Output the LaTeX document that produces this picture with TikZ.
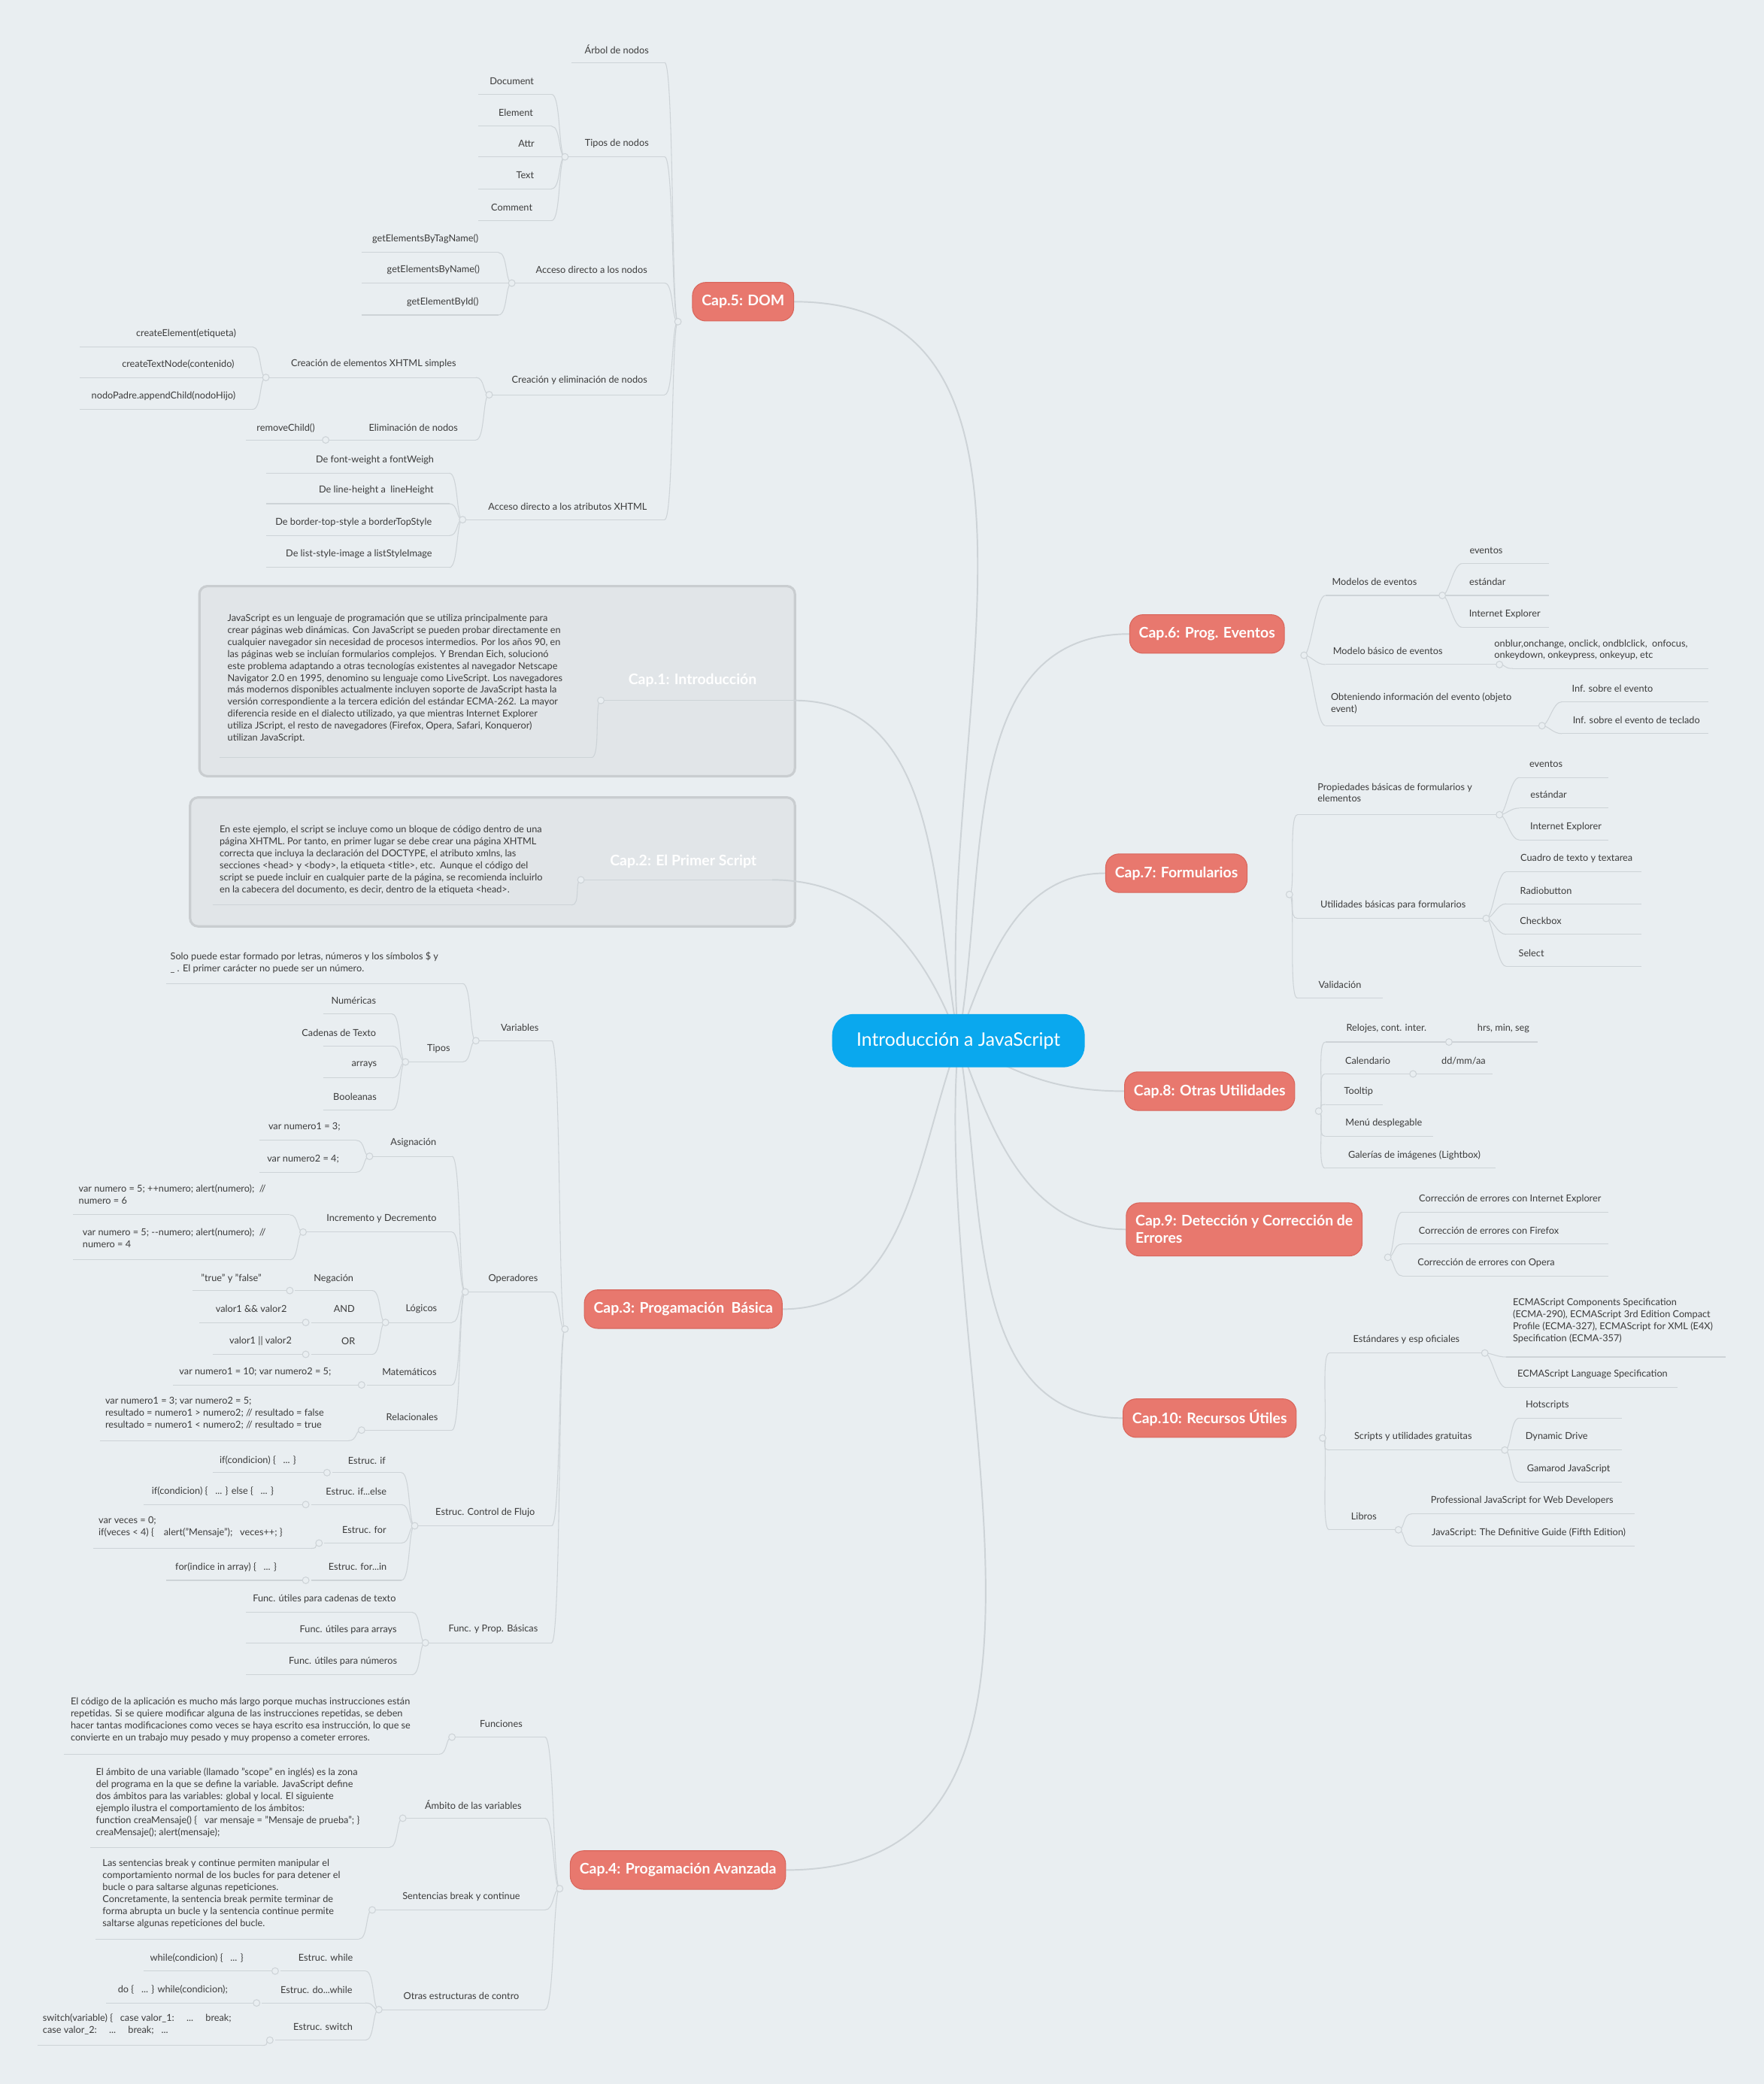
\documentclass[tikz,border=0pt]{standalone}
\usepackage{fontspec}
\setmainfont{Lato}
\usetikzlibrary{backgrounds}
\definecolor{bgc}{HTML}{E9EEF1}
\definecolor{lnc}{HTML}{CDD3D7}
\definecolor{txc}{HTML}{3C3C3C}
\definecolor{capc}{HTML}{E8786E}
\definecolor{capd}{HTML}{D8665C}
\definecolor{rootc}{HTML}{0AA8EE}
\definecolor{boxc}{HTML}{E1E5E8}
\definecolor{boxd}{HTML}{C9CDD0}
\pgfdeclarelayer{bgzero}
\pgfsetlayers{bgzero,background,main}
\tikzset{
 txt/.style={font=\fontsize{7.2}{9}\selectfont, inner sep=0pt, text=txc},
 txtw/.style={txt, align=left, anchor=north west},
 ul/.style={draw=lnc, line width=0.6pt},
 con/.style={draw=lnc, line width=0.6pt},
 rcon/.style={draw=lnc, line width=1.1pt},
 jc/.style={circle, draw=lnc, fill=bgc, line width=0.6pt, inner sep=0pt, minimum size=5pt},
 capbox/.style={fill=capc, draw=capd, line width=0.6pt, rounded corners=10pt, text=white, font=\fontsize{11}{13}\bfseries\selectfont, minimum height=29pt, inner xsep=7pt, align=left},
 capg/.style={text=white, font=\fontsize{11}{13}\bfseries\selectfont, inner sep=0pt},
 gbox/.style={fill=boxc, draw=boxd, line width=1.8pt, rounded corners=6pt},
}
\newcommand\lf[7]{\node[txt] (#1) at (#2,#3) {#7};\coordinate (#1l) at (#4,#6);\coordinate (#1r) at (#5,#6);\begin{pgfonlayer}{background}\draw[ul] (#1l) -- (#1r);\end{pgfonlayer}}
\newcommand\lfw[7]{\node[txtw] (#1) at (#2,#3) {#7};\coordinate (#1l) at (#4,#6);\coordinate (#1r) at (#5,#6);\begin{pgfonlayer}{background}\draw[ul] (#1l) -- (#1r);\end{pgfonlayer}}
\newcommand\jn[3]{\node[jc] (#1) at (#2,#3) {};}
\newcommand\cL[2]{\begin{pgfonlayer}{background}\draw[con] (#2r) .. controls +(7,0) and +(-5,0) .. (#1.center);\end{pgfonlayer}}
\newcommand\cR[2]{\begin{pgfonlayer}{background}\draw[con] (#1.center) .. controls +(5,0) and +(-7,0) .. (#2l);\end{pgfonlayer}}
\begin{document}
\begin{tikzpicture}[x=1pt,y=-1pt]
\begin{pgfonlayer}{bgzero}
\fill[bgc] (0,0) rectangle (1327,1568);
\draw[gbox] (150,441) rectangle (598,584);
\draw[gbox] (143,600) rectangle (598,697);
\end{pgfonlayer}
\useasboundingbox (0,0) rectangle (1327,1568);

% root
\node[fill=rootc, rounded corners=16pt, text=white, font=\fontsize{14}{16}\selectfont, minimum width=190pt, minimum height=40pt] (root) at (721,783) {Introducción a JavaScript};

% caps
\node[capbox] (c5) at (559,227) {Cap.5: DOM};
\node[capg] (c1) at (521,512) {Cap.1: Introducción};
\node[capg] (c2) at (514,648) {Cap.2: El Primer Script};
\node[capbox] (c3) at (514,985) {Cap.3: Progamación\ \ Básica};
\node[capbox] (c4) at (510,1407) {Cap.4: Progamación Avanzada};
\node[capbox] (c6) at (908,477) {Cap.6: Prog. Eventos};
\node[capbox] (c7) at (885,657) {Cap.7: Formularios};
\node[capbox] (c8) at (910,821) {Cap.8: Otras Utilidades};
\node[capbox, minimum height=40pt] (c9) at (936,925) {Cap.9: Detección y Corrección de\\Errores};
\node[capbox] (c10) at (910,1067) {Cap.10: Recursos Útiles};

\coordinate (c1l) at (452,527); \coordinate (c1r) at (597,527);
\coordinate (c2l) at (437,662); \coordinate (c2r) at (581,662);
\begin{pgfonlayer}{background}
\draw[ul] (c1l) -- (c1r); \draw[ul] (c2l) -- (c2r);
\draw[rcon] (root.center) to[out=95,in=0] (c5.east);
\draw[rcon] (root.center) to[out=100,in=0] (c1r);
\draw[rcon] (root.center) to[out=110,in=0] (c2r);
\draw[rcon] (root.center) to[out=250,in=0] (c3.east);
\draw[rcon] (root.center) to[out=265,in=0] (c4.east);
\draw[rcon] (root.center) to[out=80,in=180] (c6.west);
\draw[rcon] (root.center) to[out=70,in=180] (c7.west);
\draw[rcon] (root.center) to[out=-30,in=180] (c8.west);
\draw[rcon] (root.center) to[out=-70,in=180] (c9.west);
\draw[rcon] (root.center) to[out=-80,in=180] (c10.west);
\end{pgfonlayer}

% junctions of caps
\jn{j5}{510}{242} \jn{j1}{452}{527} \jn{j2}{437}{662} \jn{j3}{425}{1000} \jn{j4}{421}{1421}
\jn{j6}{981}{493} \jn{j7}{970}{673} \jn{j8}{992}{836} \jn{j9}{1044}{946} \jn{j10}{995}{1082}

% Cap.1 and Cap.2 texts
\lfw{t1}{171}{462}{165}{445}{570}{JavaScript es un lenguaje de programación que se utiliza principalmente para\\crear páginas web dinámicas. Con JavaScript se pueden probar directamente en\\cualquier navegador sin necesidad de procesos intermedios. Por los años 90, en\\las páginas web se incluían formularios complejos. Y Brendan Eich, solucionó\\este problema adaptando a otras tecnologías existentes al navegador Netscape\\Navigator 2.0 en 1995, denomino su lenguaje como LiveScript. Los navegadores\\más modernos disponibles actualmente incluyen soporte de JavaScript hasta la\\versión correspondiente a la tercera edición del estándar ECMA-262. La mayor\\diferencia reside en el dialecto utilizado, ya que mientras Internet Explorer\\utiliza JScript, el resto de navegadores (Firefox, Opera, Safari, Konqueror)\\utilizan JavaScript.}
\cL{j1}{t1}
\lfw{t2}{165}{621}{160}{430}{681}{En este ejemplo, el script se incluye como un bloque de código dentro de una\\página XHTML. Por tanto, en primer lugar se debe crear una página XHTML\\correcta que incluya la declaración del DOCTYPE, el atributo xmlns, las\\secciones <head> y <body>, la etiqueta <title>, etc.\ \ Aunque el código del\\script se puede incluir en cualquier parte de la página, se recomienda incluirlo\\en la cabecera del documento, es decir, dentro de la etiqueta <head>.}
\cL{j2}{t2}

% Cap.5
\lf{a1}{464}{37}{430}{500}{47}{Árbol de nodos} \cL{j5}{a1}
\lf{a2}{464}{108}{425}{500}{118}{Tipos de nodos} \cL{j5}{a2} \jn{ja2}{425}{118}
\lf{a21}{385}{61}{360}{415}{71}{Document} \cL{ja2}{a21}
\lf{a22}{388}{85}{360}{415}{95}{Element} \cL{ja2}{a22}
\lf{a23}{396}{108}{360}{415}{118}{Attr} \cL{ja2}{a23}
\lf{a24}{395}{132}{360}{415}{142}{Text} \cL{ja2}{a24}
\lf{a25}{385}{156}{360}{415}{166}{Comment} \cL{ja2}{a25}
\lf{a3}{445}{203}{385}{500}{213}{Acceso directo a los nodos} \cL{j5}{a3} \jn{ja3}{385}{213}
\lf{a31}{320}{180}{272}{375}{190}{getElementsByTagName()} \cL{ja3}{a31}
\lf{a32}{326}{203}{272}{375}{213}{getElementsByName()} \cL{ja3}{a32}
\lf{a33}{333}{227}{272}{375}{237}{getElementById()} \cL{ja3}{a33}
\lf{a4}{436}{286}{368}{500}{297}{Creación y eliminación de nodos} \cL{j5}{a4} \jn{ja4}{368}{297}
\lf{a41}{281}{274}{200}{358}{284}{Creación de elementos XHTML simples} \cL{ja4}{a41} \jn{ja41}{200}{284}
\lf{a411}{140}{251}{60}{190}{261}{createElement(etiqueta)} \cL{ja41}{a411}
\lf{a412}{134}{274}{60}{190}{284}{createTextNode(contenido)} \cL{ja41}{a412}
\lf{a413}{123}{298}{60}{190}{308}{nodoPadre.appendChild(nodoHijo)} \cL{ja41}{a413}
\lf{a42}{311}{322}{245}{358}{331}{Eliminación de nodos} \cL{ja4}{a42} \jn{ja42}{245}{331}
\lf{a421}{215}{322}{185}{240}{331}{removeChild()} \cL{ja42}{a421}
\lf{a5}{427}{381}{348}{500}{391}{Acceso directo a los atributos XHTML} \cL{j5}{a5} \jn{ja5}{348}{391}
\lf{a51}{282}{346}{200}{338}{356}{De font-weight a fontWeigh} \cL{ja5}{a51}
\lf{a52}{283}{369}{200}{338}{379}{De line-height a\ \ lineHeight} \cL{ja5}{a52}
\lf{a53}{266}{393}{200}{338}{403}{De border-top-style a borderTopStyle} \cL{ja5}{a53}
\lf{a54}{270}{417}{200}{338}{427}{De list-style-image a listStyleImage} \cL{ja5}{a54}

% Cap.3
\lf{b1}{391}{773}{358}{415}{783}{Variables} \cL{j3}{b1} \jn{jb1}{358}{783}
\lfw{b11}{128}{716}{125}{348}{740}{Solo puede estar formado por letras, números y los símbolos \$ y\\\_ . El primer carácter no puede ser un número.} \cL{jb1}{b11}
\lf{b12}{330}{789}{305}{348}{799}{Tipos} \cL{jb1}{b12} \jn{jb12}{305}{799}
\lf{b121}{266}{753}{243}{295}{763}{Numéricas} \cL{jb12}{b121}
\lf{b122}{255}{777}{243}{295}{787}{Cadenas de Texto} \cL{jb12}{b122}
\lf{b123}{274}{801}{243}{295}{811}{arrays} \cL{jb12}{b123}
\lf{b124}{267}{825}{243}{295}{835}{Booleanas} \cL{jb12}{b124}
\lf{b2}{386}{962}{350}{415}{972}{Operadores} \cL{j3}{b2} \jn{jb2}{350}{972}
\lf{b21}{311}{860}{278}{340}{870}{Asignación} \cL{jb2}{b21} \jn{jb21}{278}{870}
\lf{b211}{229}{848}{195}{268}{858}{var numero1 = 3;} \cL{jb21}{b211}
\lf{b212}{228}{872}{195}{268}{882}{var numero2 = 4;} \cL{jb21}{b212}
\lf{b22}{287}{917}{228}{340}{927}{Incremento y Decremento} \cL{jb2}{b22} \jn{jb22}{228}{927}
\lfw{b221}{59}{891}{55}{218}{914}{var numero = 5; ++numero; alert(numero);\ \ //\\numero = 6} \cL{jb22}{b221}
\lfw{b222}{62}{924}{55}{218}{948}{var numero = 5; -{}-numero; alert(numero);\ \ //\\numero = 4} \cL{jb22}{b222}
\lf{b23}{317}{985}{290}{340}{995}{Lógicos} \cL{jb2}{b23} \jn{jb23}{290}{995}
\lf{b231}{251}{962}{222}{280}{971}{Negación} \cL{jb23}{b231} \jn{jb231}{218}{971}
\lf{b2311}{174}{962}{145}{212}{971}{"true" y "false"} \cL{jb231}{b2311}
\lf{b232}{259}{985}{234}{280}{995}{AND} \cL{jb23}{b232} \jn{jb232}{230}{995}
\lf{b2321}{189}{985}{150}{224}{995}{valor1 \&\& valor2} \cL{jb232}{b2321}
\lf{b233}{262}{1009}{234}{280}{1019}{OR} \cL{jb23}{b233} \jn{jb233}{230}{1019}
\lf{b2331}{196}{1009}{160}{224}{1019}{valor1 || valor2} \cL{jb233}{b2331}
\lf{b24}{308}{1032}{276}{340}{1042}{Matemáticos} \cL{jb2}{b24} \jn{jb24}{272}{1042}
\lf{b241}{192}{1032}{130}{266}{1042}{var numero1 = 10; var numero2 = 5;} \cL{jb24}{b241}
\lf{b25}{310}{1066}{272}{340}{1076}{Relacionales} \cL{jb2}{b25} \jn{jb25}{272}{1076}
\lfw{b251}{79}{1051}{75}{262}{1084}{var numero1 = 3; var numero2 = 5;\\resultado = numero1 > numero2; // resultado = false\\resultado = numero1 < numero2; // resultado = true} \cL{jb25}{b251}
\lf{b3}{365}{1138}{312}{415}{1148}{Estruc. Control de Flujo} \cL{j3}{b3} \jn{jb3}{312}{1148}
\lf{b31}{276}{1099}{250}{302}{1108}{Estruc. if} \cL{jb3}{b31} \jn{jb31}{246}{1108}
\lf{b311}{194}{1099}{160}{240}{1108}{if(condicion) \{\ \ \ ... \}} \cL{jb31}{b311}
\lf{b32}{268}{1122}{234}{302}{1132}{Estruc. if...else} \cL{jb3}{b32} \jn{jb32}{230}{1132}
\lf{b321}{160}{1122}{108}{224}{1132}{if(condicion) \{\ \ \ ... \} else \{\ \ \ ... \}} \cL{jb32}{b321}
\lf{b33}{274}{1151}{244}{302}{1161}{Estruc. for} \cL{jb3}{b33} \jn{jb33}{240}{1161}
\lfw{b331}{74}{1141}{70}{234}{1165}{var veces = 0;\\if(veces < 4) \{\ \ \ \ alert("Mensaje");\ \ \ veces++; \}} \cL{jb33}{b331}
\lf{b34}{269}{1179}{234}{302}{1189}{Estruc. for...in} \cL{jb3}{b34} \jn{jb34}{230}{1189}
\lf{b341}{170}{1179}{125}{224}{1189}{for(indice in array) \{\ \ \ ... \}} \cL{jb34}{b341}
\lf{b4}{371}{1226}{320}{415}{1236}{Func. y Prop. Básicas} \cL{j3}{b4} \jn{jb4}{320}{1236}
\lf{b41}{244}{1203}{185}{310}{1213}{Func. útiles para cadenas de texto} \cL{jb4}{b41}
\lf{b42}{262}{1226}{185}{310}{1236}{Func. útiles para arrays} \cL{jb4}{b42}
\lf{b43}{258}{1250}{185}{310}{1260}{Func. útiles para números} \cL{jb4}{b43}

% Cap.4
\lf{d1}{377}{1297}{340}{410}{1307}{Funciones} \cL{j4}{d1} \jn{jd1}{340}{1307}
\lfw{d11}{53}{1277}{48}{330}{1320}{El código de la aplicación es mucho más largo porque muchas instrucciones están\\repetidas. Si se quiere modificar alguna de las instrucciones repetidas, se deben\\hacer tantas modificaciones como veces se haya escrito esa instrucción, lo que se\\convierte en un trabajo muy pesado y muy propenso a cometer errores.} \cL{jd1}{d11}
\lf{d2}{356}{1358}{303}{410}{1368}{Ámbito de las variables} \cL{j4}{d2} \jn{jd2}{303}{1368}
\lfw{d21}{72}{1330}{68}{293}{1390}{El ámbito de una variable (llamado "scope" en inglés) es la zona\\del programa en la que se define la variable. JavaScript define\\dos ámbitos para las variables: global y local. El siguiente\\ejemplo ilustra el comportamiento de los ámbitos:\\function creaMensaje() \{\ \ \ var mensaje = "Mensaje de prueba"; \}\\creaMensaje(); alert(mensaje);} \cL{jd2}{d21}
\lf{d3}{347}{1427}{280}{410}{1437}{Sentencias break y continue} \cL{j4}{d3} \jn{jd3}{280}{1437}
\lfw{d31}{77}{1399}{72}{270}{1459}{Las sentencias break y continue permiten manipular el\\comportamiento normal de los bucles for para detener el\\bucle o para saltarse algunas repeticiones.\\Concretamente, la sentencia break permite terminar de\\forma abrupta un bucle y la sentencia continue permite\\saltarse algunas repeticiones del bucle.} \cL{jd3}{d31}
\lf{d4}{347}{1502}{285}{410}{1512}{Otras estructuras de contro} \cL{j4}{d4} \jn{jd4}{285}{1512}
\lf{d41}{245}{1473}{211}{275}{1483}{Estruc. while} \cL{jd4}{d41} \jn{jd41}{207}{1483}
\lf{d411}{148}{1473}{108}{200}{1483}{while(condicion) \{\ \ \ ... \}} \cL{jd41}{d411}
\lf{d42}{238}{1497}{197}{275}{1507}{Estruc. do...while} \cL{jd4}{d42} \jn{jd42}{193}{1507}
\lf{d421}{130}{1497}{80}{187}{1507}{do \{\ \ \ ... \} while(condicion);} \cL{jd42}{d421}
\lf{d43}{243}{1525}{207}{275}{1535}{Estruc. switch} \cL{jd4}{d43} \jn{jd43}{203}{1535}
\lfw{d431}{32}{1515}{28}{197}{1539}{switch(variable) \{\ \ \ case valor\_1:\ \ \ \ \ ...\ \ \ \ \ break;\\case valor\_2:\ \ \ \ \ ...\ \ \ \ \ break;\ \ \ ...} \cL{jd43}{d431}

% Cap.6
\lf{e1}{1034}{438}{997}{1085}{448}{Modelos de eventos} \cR{j6}{e1} \jn{je1}{1085}{448}
\lf{e11}{1118}{414}{1100}{1165}{424}{eventos} \cR{je1}{e11}
\lf{e12}{1119}{438}{1100}{1165}{448}{estándar} \cR{je1}{e12}
\lf{e13}{1132}{462}{1100}{1165}{472}{Internet Explorer} \cR{je1}{e13}
\lf{e2}{1044}{490}{997}{1128}{500}{Modelo básico de eventos} \cR{j6}{e2} \jn{je2}{1128}{500}
\lfw{e21}{1124}{481}{1138}{1285}{503}{onblur,onchange, onclick, ondblclick,\ \ onfocus,\\onkeydown, onkeypress, onkeyup, etc} \cR{je2}{e21}
\lfw{e3}{1001}{521}{997}{1160}{546}{Obteniendo información del evento (objeto\\event)} \cR{j6}{e3} \jn{je3}{1160}{546}
\lf{e31}{1213}{518}{1175}{1285}{528}{Inf. sobre el evento} \cR{je3}{e31}
\lf{e32}{1231}{542}{1175}{1285}{552}{Inf. sobre el evento de teclado} \cR{je3}{e32}

% Cap.7
\lfw{f1}{991}{589}{976}{1128}{613}{Propiedades básicas de formularios y\\elementos} \cR{j7}{f1} \jn{jf1}{1128}{613}
\lf{f11}{1163}{575}{1143}{1210}{585}{eventos} \cR{jf1}{f11}
\lf{f12}{1165}{598}{1143}{1210}{608}{estándar} \cR{jf1}{f12}
\lf{f13}{1178}{622}{1143}{1210}{632}{Internet Explorer} \cR{jf1}{f13}
\lf{f2}{1048}{681}{976}{1118}{691}{Utilidades básicas para formularios} \cR{j7}{f2} \jn{jf2}{1118}{691}
\lf{f21}{1186}{646}{1133}{1235}{656}{Cuadro de texto y textarea} \cR{jf2}{f21}
\lf{f22}{1163}{670}{1133}{1235}{680}{Radiobutton} \cR{jf2}{f22}
\lf{f23}{1159}{693}{1133}{1235}{703}{Checkbox} \cR{jf2}{f23}
\lf{f24}{1152}{717}{1133}{1235}{727}{Select} \cR{jf2}{f24}
\lf{f3}{1008}{741}{976}{1040}{751}{Validación} \cR{j7}{f3}

% Cap.8
\lf{g1}{1043}{774}{997}{1090}{784}{Relojes, cont. inter.} \cR{j8}{g1} \jn{jg1}{1090}{784}
\lf{g11}{1131}{774}{1100}{1157}{784}{hrs, min, seg} \cR{jg1}{g11}
\lf{g2}{1029}{798}{997}{1063}{808}{Calendario} \cR{j8}{g2} \jn{jg2}{1063}{808}
\lf{g21}{1101}{798}{1075}{1123}{808}{dd/mm/aa} \cR{jg2}{g21}
\lf{g3}{1022}{821}{997}{1040}{831}{Tooltip} \cR{j8}{g3}
\lf{g4}{1041}{845}{997}{1078}{855}{Menú desplegable} \cR{j8}{g4}
\lf{g5}{1064}{869}{997}{1125}{879}{Galerías de imágenes (Lightbox)} \cR{j8}{g5}

% Cap.9
\lf{h1}{1136}{902}{1055}{1210}{912}{Corrección de errores con Internet Explorer} \cR{j9}{h1}
\lf{h2}{1120}{926}{1055}{1210}{936}{Corrección de errores con Firefox} \cR{j9}{h2}
\lf{h3}{1118}{950}{1055}{1210}{960}{Corrección de errores con Opera} \cR{j9}{h3}

% Cap.10
\lf{k1}{1058}{1008}{1000}{1117}{1018}{Estándares y esp oficiales} \cR{j10}{k1} \jn{jk1}{1117}{1018}
\lfw{k11}{1138}{977}{1133}{1298}{1021}{ECMAScript Components Specification\\(ECMA-290), ECMAScript 3rd Edition Compact\\Profile (ECMA-327), ECMAScript for XML (E4X)\\Specification (ECMA-357)} \cR{jk1}{k11}
\lf{k12}{1198}{1034}{1133}{1262}{1044}{ECMAScript Language Specification} \cR{jk1}{k12}
\lf{k2}{1063}{1081}{1000}{1132}{1091}{Scripts y utilidades gratuitas} \cR{j10}{k2} \jn{jk2}{1132}{1091}
\lf{k21}{1164}{1057}{1143}{1220}{1067}{Hotscripts} \cR{jk2}{k21}
\lf{k22}{1171}{1081}{1143}{1220}{1091}{Dynamic Drive} \cR{jk2}{k22}
\lf{k23}{1180}{1105}{1143}{1220}{1115}{Gamarod JavaScript} \cR{jk2}{k23}
\lf{k3}{1026}{1141}{1000}{1052}{1151}{Libros} \cR{j10}{k3} \jn{jk3}{1052}{1151}
\lf{k31}{1145}{1129}{1062}{1230}{1139}{Professional JavaScript for Web Developers} \cR{jk3}{k31}
\lf{k32}{1150}{1153}{1062}{1230}{1163}{JavaScript: The Definitive Guide (Fifth Edition)} \cR{jk3}{k32}
\end{tikzpicture}
\end{document}
